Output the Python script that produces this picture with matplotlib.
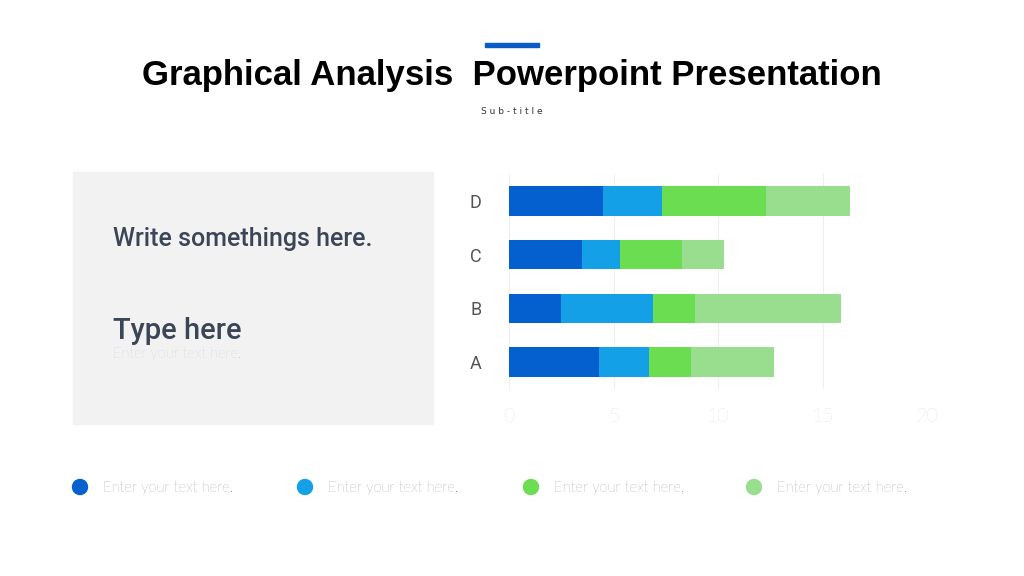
import matplotlib.pyplot as plt
from matplotlib.patches import Rectangle, Ellipse

categories = ['A', 'B', 'C', 'D']
seg1 = [4.3, 2.5, 3.5, 4.5]
seg2 = [2.4, 4.4, 1.8, 2.8]
seg3 = [2.0, 2.0, 3.0, 5.0]
seg4 = [4.0, 7.0, 2.0, 4.0]
series = [seg1, seg2, seg3, seg4]
colors = ['#0560CF', '#14A0E6', '#6ADE50', '#98DE8E']
legend_labels = ['Enter your text here.'] * 4

W, H = 1024, 576
fig = plt.figure(figsize=(W / 100, H / 100), dpi=100)
fig.patch.set_facecolor('white')

# title block
fig.add_artist(Rectangle((485 / W, 1 - 47 / H), 54 / W, 4 / H, color='#0A5BC4',
                         transform=fig.transFigure))
fig.text(0.5, 1 - 76 / H, 'Graphical Analysis  Powerpoint Presentation', ha='center',
         va='center', fontsize=25, fontweight='bold', family='Liberation Sans')
fig.text(0.5, 1 - 111 / H, 'S u b - t i t l e', ha='center', va='center', fontsize=6.5,
         color='#333333')

# grey text panel
fig.add_artist(Rectangle((73 / W, 1 - 424 / H), 360 / W, 252 / H, color='#F2F2F2',
                         transform=fig.transFigure))
fig.text(113 / W, 1 - 239 / H, 'Write somethings here.', fontsize=18, color='#3B4556',
         va='center', family='Roboto', fontweight='medium')
fig.text(113 / W, 1 - 331 / H, 'Type here', fontsize=21, color='#3B4556',
         va='center', family='Roboto', fontweight='medium')
fig.text(113 / W, 1 - 354 / H, 'Enter your text here.', fontsize=10.5, color='#BBBBBB',
         va='center', family='Lato', fontweight='light')

# chart
ax = fig.add_axes([509 / W, 1 - 389 / H, 418 / W, 215 / H])
left = [0] * len(categories)
for vals, c in zip(series, colors):
    ax.barh(categories, vals, left=left, color=c, height=0.55, zorder=3)
    left = [l + v for l, v in zip(left, vals)]
ax.set_xlim(0, 20)
ax.set_xticks([0, 5, 10, 15, 20])
ax.set_ylim(-0.5, 3.5)
ax.grid(axis='x', color='#EEEEEE', lw=0.8, zorder=0)
for s in ax.spines.values():
    s.set_visible(False)
ax.tick_params(length=0)
ax.tick_params(axis='x', labelsize=14, labelcolor='#CCCCCC', pad=14)
ax.tick_params(axis='y', labelsize=13, labelcolor='#555555', pad=20)
for t in ax.get_xticklabels():
    t.set_fontfamily('Lato')
    t.set_fontweight('light')
for t in ax.get_yticklabels():
    t.set_fontfamily('Roboto')

# legend row
xs = [80, 305, 531, 754]
for x, c, lab in zip(xs, colors, legend_labels):
    fig.add_artist(Ellipse((x / W, 1 - 487 / H), 15 / W, 15 / H, color=c,
                           transform=fig.transFigure))
    fig.text((x + 23) / W, 1 - 488 / H, lab, fontsize=10.6, color='#666666',
             va='center', family='Lato', fontweight='light')

fig.savefig('out.png', dpi=100)
